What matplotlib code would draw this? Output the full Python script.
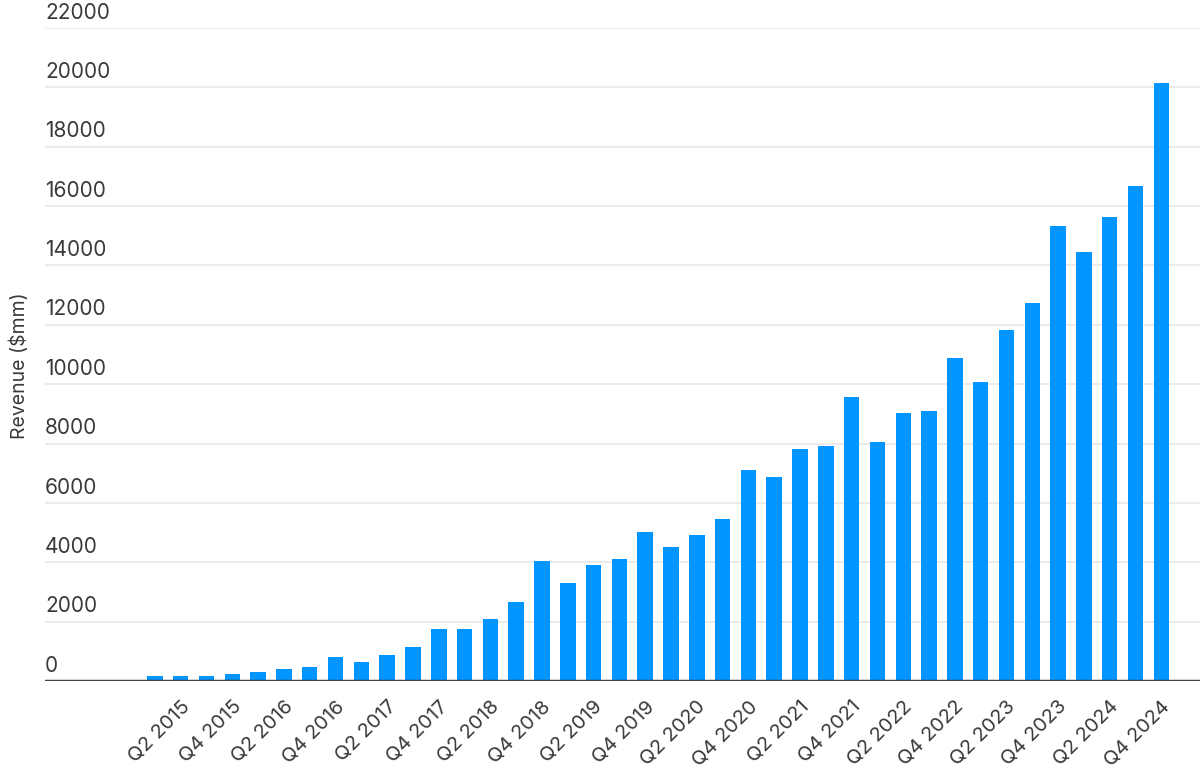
import matplotlib
matplotlib.use("Agg")
import matplotlib.pyplot as plt
import numpy as np

# Quarterly revenue, Q1 2015 - Q4 2024 ($mm)
quarters = [f"Q{q} {y}" for y in range(2015, 2025) for q in range(1, 5)]
revenue = [
    168, 168, 168, 226, 293, 404, 461, 808, 630, 865,
    1155, 1740, 1740, 2088, 2660, 4050, 3300, 3900, 4100, 5027,
    4502, 4916, 5444, 7104, 6879, 7811, 7923, 9552, 8037, 9034,
    9091, 10886, 10067, 11808, 12737, 15343, 14468, 15633, 16677, 20145,
]
yticks = list(range(0, 22001, 2000))

plt.rcParams["font.family"] = ["Inter", "DejaVu Sans"]
fig = plt.figure(figsize=(12, 7.77), dpi=100)
ax = fig.add_axes([0.0375, 0.1236, 0.9625, 0.8404])

x = np.arange(len(quarters))
ax.bar(x, revenue, width=0.6, color="#0095ff", zorder=2)

ax.set_xlim(-4.26, 40.5)
ax.set_ylim(0, 22000)

# gridlines with labels sitting above them
for t in yticks:
    if t > 0:
        ax.axhline(t, color="#e8e8e8", linewidth=1.2, zorder=1)
    ax.text(0.0, t + 180, str(t), transform=ax.get_yaxis_transform(),
            fontsize=15, color="#3a3a3a", ha="left", va="bottom")
ax.axhline(0, color="#444444", linewidth=2.5, zorder=3)

ax.set_yticks([])
ax.set_xticks(x[1::2])
ax.set_xticklabels(quarters[1::2], rotation=45, ha="right",
                   rotation_mode="anchor", fontsize=14.5, color="#3a3a3a")
ax.tick_params(axis="x", length=0, pad=12)
for s in ax.spines.values():
    s.set_visible(False)

fig.text(0.008, 0.53, "Revenue ($mm)", rotation=90, fontsize=14,
         color="#3a3a3a", ha="left", va="center")

fig.savefig("out.png", dpi=100)
